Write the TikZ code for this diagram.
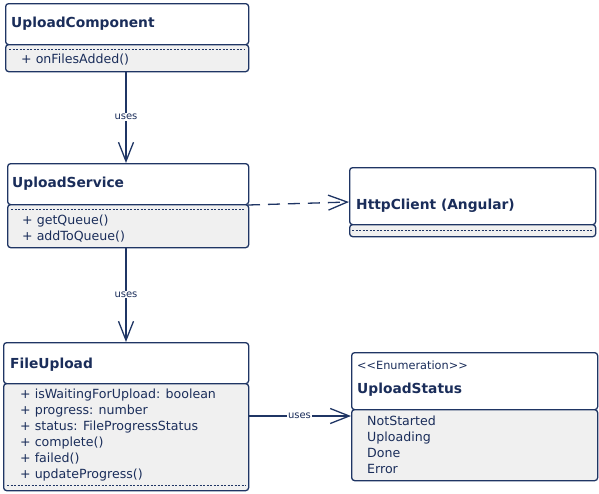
\documentclass[tikz,border=0pt]{standalone}
\usepackage{fontspec}
\setmainfont{DejaVu Sans}[Ligatures=NoCommon]
\usetikzlibrary{arrows.meta}
\definecolor{navy}{HTML}{1F3564}
\definecolor{txtnavy}{HTML}{1A2D5A}
\definecolor{cmpfill}{HTML}{F0F0F0}
\tikzset{
 hdr/.style={draw=navy, line width=1.3pt, fill=white, rounded corners=3pt, anchor=north west, inner sep=0pt},
 cmp/.style={hdr, fill=cmpfill},
 ttl/.style={anchor=base west, font=\bfseries\fontsize{13.8}{16}\selectfont, text=txtnavy, inner sep=0pt},
 stereo/.style={anchor=base west, font=\fontsize{11.3}{14}\selectfont, text=txtnavy, inner sep=0pt},
 item/.style={anchor=base west, font=\fontsize{12.6}{16}\selectfont, text=txtnavy, inner sep=0pt},
 sepline/.style={draw=navy, line width=0.9pt, dash pattern=on 2.2pt off 1.3pt},
 uses/.style={draw=navy, line width=1.3pt, -{Straight Barb[length=19pt,width=15pt,line width=1.3pt]}},
 dep/.style={uses, dash pattern=on 12pt off 8pt},
 lbl/.style={fill=white, font=\fontsize{10}{12}\selectfont, text=txtnavy, inner sep=1pt},
}
\begin{document}
\begin{tikzpicture}[x=1pt,y=-1pt]
\useasboundingbox[fill=white] (0,0) rectangle (599,493);

% UploadComponent
\node[hdr, minimum width=243pt, minimum height=41pt] (ucH) at (5,3) {};
\node[cmp, minimum width=243pt, minimum height=27pt] (ucC) at (5,44) {};
\draw[sepline] ([xshift=4pt,yshift=-5pt]ucC.north west) -- ([xshift=-4pt,yshift=-5pt]ucC.north east);
\node[ttl] (ucT) at (11,27) {UploadComponent};
\node[item] (uc1) at (21,63) {+ onFilesAdded()};

% UploadService
\node[hdr, minimum width=241pt, minimum height=41pt] (usH) at (7,163) {};
\node[cmp, minimum width=241pt, minimum height=43pt] (usC) at (7,204) {};
\draw[sepline] ([xshift=4pt,yshift=-5pt]usC.north west) -- ([xshift=-4pt,yshift=-5pt]usC.north east);
\node[ttl] (usT) at (12,187) {UploadService};
\node[item] (us1) at (22,224) {+ getQueue()};
\node[item] (us2) at (22,240) {+ addToQueue()};

% HttpClient
\node[hdr, minimum width=246pt, minimum height=57pt] (hcH) at (349,167) {};
\node[cmp, minimum width=246pt, minimum height=12pt] (hcC) at (349,224) {};
\draw[sepline] ([xshift=3pt]hcC.west) -- ([xshift=-3pt]hcC.east);
\node[ttl] (hcT) at (356,209) {HttpClient (Angular)};

% FileUpload
\node[hdr, minimum width=245pt, minimum height=41pt] (fuH) at (3,342) {};
\node[cmp, minimum width=245pt, minimum height=107pt] (fuC) at (3,383) {};
\draw[sepline] ([xshift=4pt,yshift=6pt]fuC.south west) -- ([xshift=-4pt,yshift=6pt]fuC.south east);
\node[ttl] (fuT) at (10,368) {FileUpload};
\node[item] (fu1) at (20,398) {+ isWaitingForUpload: boolean};
\node[item] (fu2) at (20,414) {+ progress: number};
\node[item] (fu3) at (20,430) {+ status: FileProgressStatus};
\node[item] (fu4) at (20,446) {+ complete()};
\node[item] (fu5) at (20,462) {+ failed()};
\node[item] (fu6) at (20,478) {+ updateProgress()};

% UploadStatus
\node[hdr, minimum width=246pt, minimum height=57pt] (stH) at (351,352) {};
\node[cmp, minimum width=246pt, minimum height=71pt] (stC) at (351,409) {};
\node[stereo] (stS) at (357,369) {<{}<Enumeration>{}>};
\node[ttl] (stT) at (357,393) {UploadStatus};
\node[item] (st1) at (367,425) {NotStarted};
\node[item] (st2) at (367,441) {Uploading};
\node[item] (st3) at (367,457) {Done};
\node[item] (st4) at (367,473) {Error};

% connectors
\coordinate (a1) at (126,71);
\coordinate (a2) at (126,163);
\draw[uses] (a1) -- node[lbl] (l1) {uses} (a2);
\coordinate (b1) at (126,247);
\coordinate (b2) at (126,342);
\draw[uses] (b1) -- node[lbl] (l2) {uses} (b2);
\coordinate (c1) at (248,205);
\coordinate (c2) at (349,202);
\draw[dep] (c1) -- (c2);
\coordinate (d1) at (248,416);
\coordinate (d2) at (351,416);
\draw[uses] (d1) -- node[lbl, pos=0.5] (l3) {uses} (d2);
\end{tikzpicture}
\end{document}
